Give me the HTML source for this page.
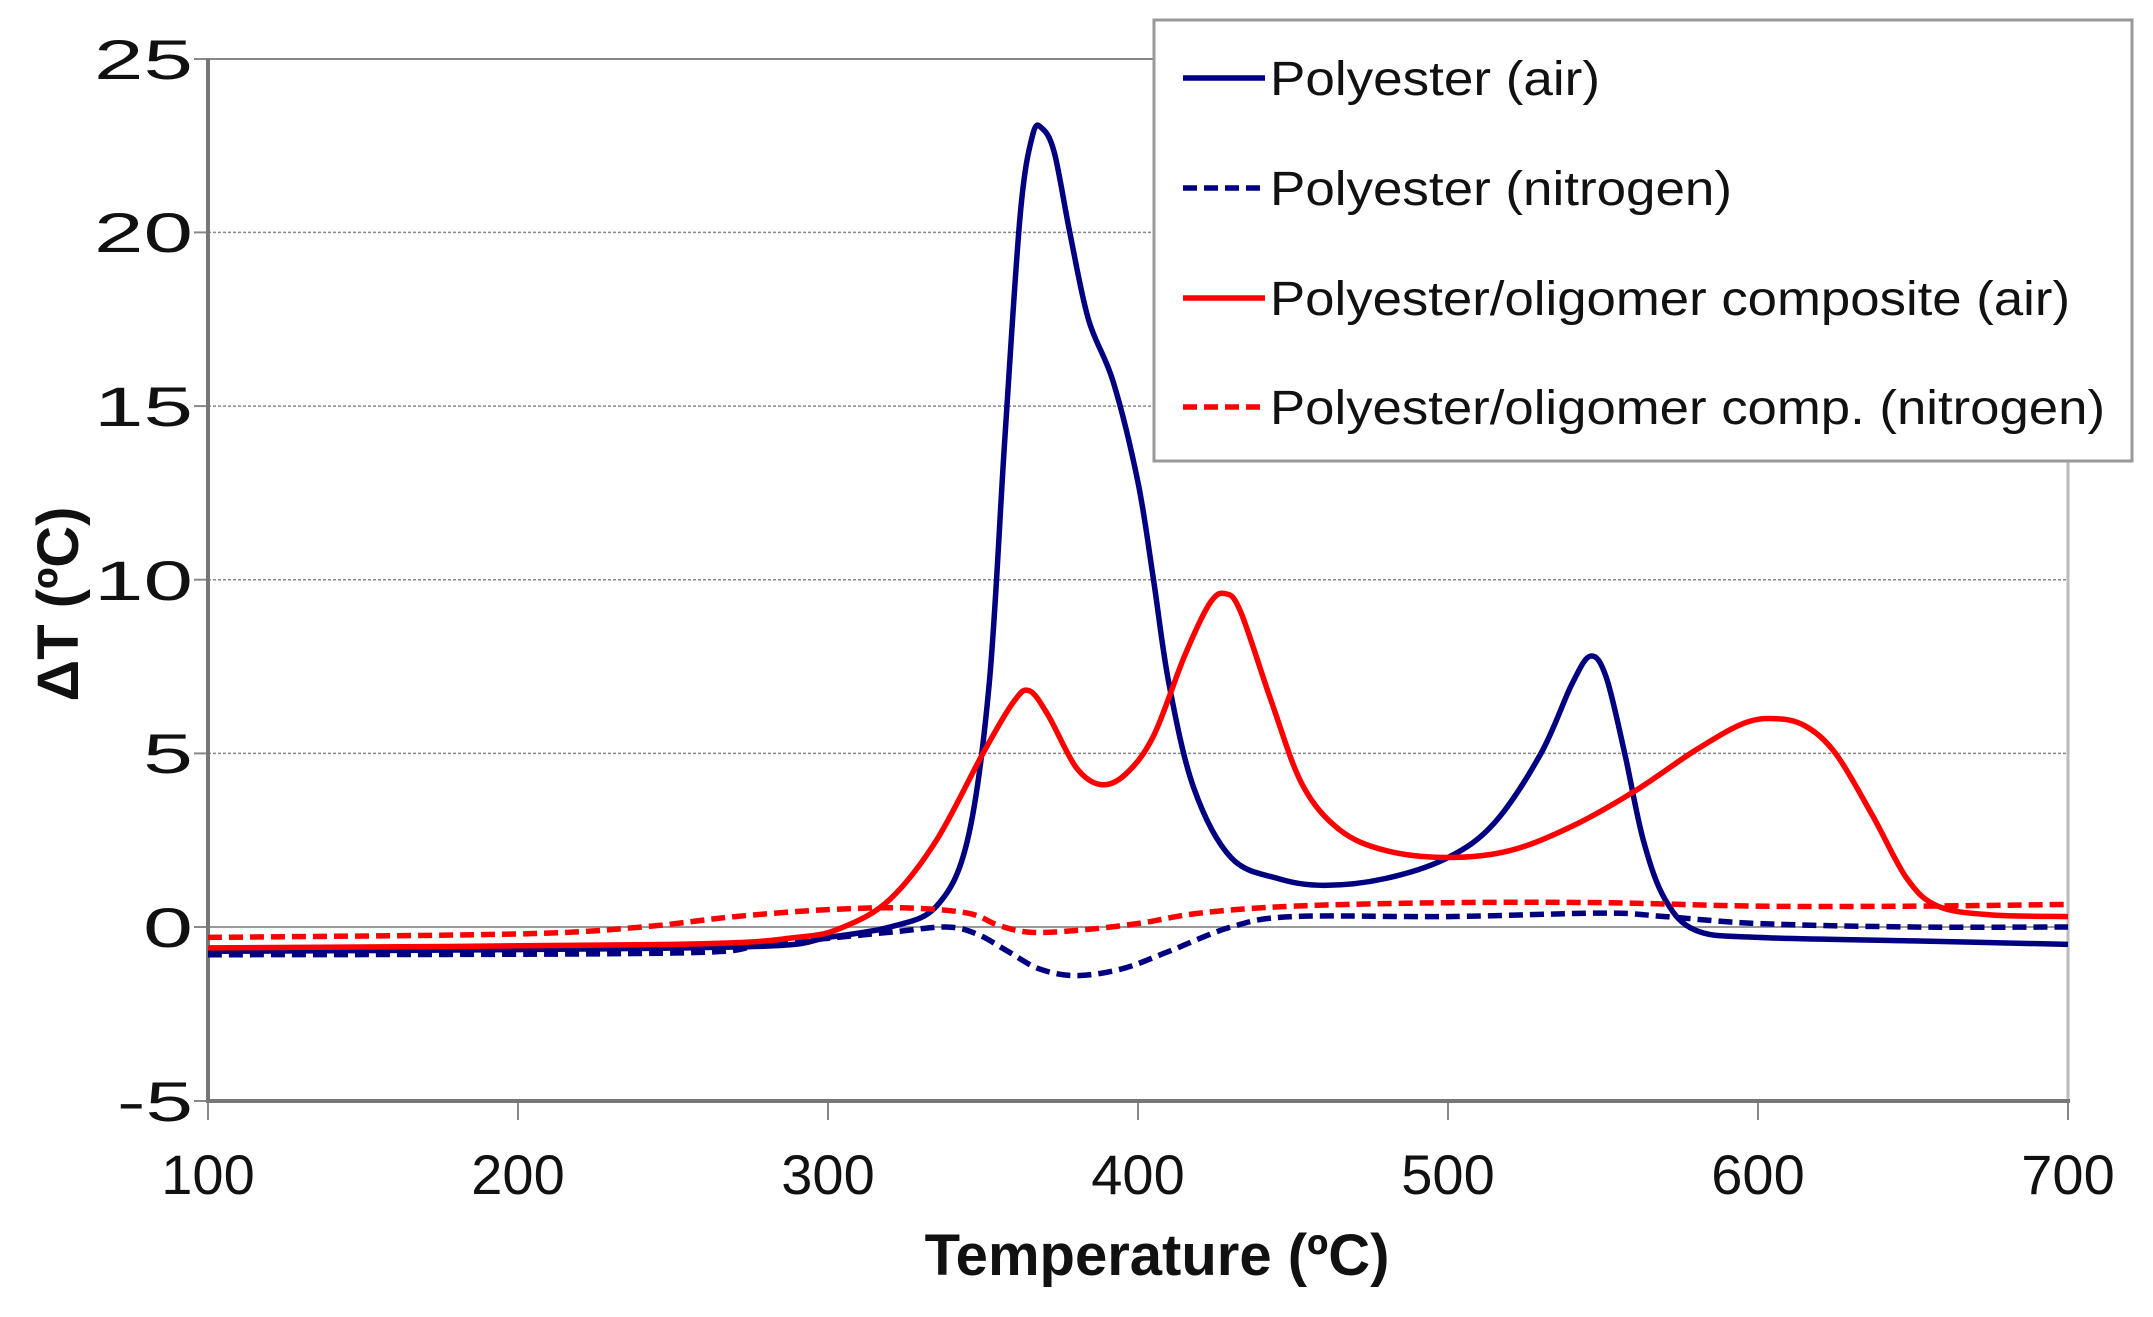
<!DOCTYPE html>
<html><head><meta charset="utf-8"><style>
html,body{margin:0;padding:0;background:#fff}
svg{display:block}
text{font-family:"Liberation Sans",Arial,sans-serif;fill:#111}
</style></head><body>
<svg id="s" width="2153" height="1317" viewBox="0 0 2153 1317" xmlns="http://www.w3.org/2000/svg">
<g stroke="#888" stroke-width="1.5" stroke-dasharray="3,2">
<line x1="208" y1="232.4" x2="2068" y2="232.4"/>
<line x1="208" y1="406.1" x2="2068" y2="406.1"/>
<line x1="208" y1="579.7" x2="2068" y2="579.7"/>
<line x1="208" y1="753.4" x2="2068" y2="753.4"/>
</g>
<line x1="208" y1="59" x2="2068" y2="59" stroke="#888" stroke-width="2"/>
<line x1="208" y1="927" x2="2068" y2="927" stroke="#999" stroke-width="2"/>
<line x1="2068" y1="59" x2="2068" y2="1101" stroke="#bbb" stroke-width="3"/>
<g stroke="#888" stroke-width="2">
<line x1="194" y1="59" x2="208" y2="59"/><line x1="194" y1="232.4" x2="208" y2="232.4"/>
<line x1="194" y1="406.1" x2="208" y2="406.1"/><line x1="194" y1="579.7" x2="208" y2="579.7"/>
<line x1="194" y1="753.4" x2="208" y2="753.4"/><line x1="194" y1="927" x2="208" y2="927"/>
<line x1="194" y1="1101" x2="208" y2="1101"/>
<line x1="208" y1="1101" x2="208" y2="1120"/><line x1="518" y1="1101" x2="518" y2="1120"/>
<line x1="828" y1="1101" x2="828" y2="1120"/><line x1="1138" y1="1101" x2="1138" y2="1120"/>
<line x1="1448" y1="1101" x2="1448" y2="1120"/><line x1="1758" y1="1101" x2="1758" y2="1120"/>
<line x1="2068" y1="1101" x2="2068" y2="1120"/>
</g>
<line x1="208" y1="59" x2="208" y2="1103" stroke="#777" stroke-width="4"/>
<line x1="206" y1="1101" x2="2070" y2="1101" stroke="#777" stroke-width="4"/>
<g id="curves" fill="none" stroke-width="5.5" stroke-linejoin="round"></g>
<g font-size="56" text-anchor="end">
<text x="193" y="79" textLength="99" lengthAdjust="spacingAndGlyphs">25</text>
<text x="193" y="252" textLength="99" lengthAdjust="spacingAndGlyphs">20</text>
<text x="193" y="426" textLength="99" lengthAdjust="spacingAndGlyphs">15</text>
<text x="193" y="600" textLength="99" lengthAdjust="spacingAndGlyphs">10</text>
<text x="193" y="773" textLength="50" lengthAdjust="spacingAndGlyphs">5</text>
<text x="193" y="947" textLength="50" lengthAdjust="spacingAndGlyphs">0</text>
<text x="193" y="1121" textLength="76" lengthAdjust="spacingAndGlyphs">-5</text>
</g>
<g font-size="56" text-anchor="middle">
<text x="208" y="1194">100</text><text x="518" y="1194">200</text><text x="828" y="1194">300</text>
<text x="1138" y="1194">400</text><text x="1448" y="1194">500</text><text x="1758" y="1194">600</text>
<text x="2068" y="1194">700</text>
</g>
<text x="1157" y="1275" font-size="58" font-weight="bold" text-anchor="middle">Temperature (ºC)</text>
<text transform="translate(78,604) rotate(-90)" font-size="58" font-weight="bold" text-anchor="middle">ΔT (ºC)</text>
<rect x="1154" y="20" width="978" height="441" fill="#fff" stroke="#999" stroke-width="3"/>
<g stroke-width="5.5">
<line x1="1183" y1="78" x2="1265" y2="78" stroke="#000080"/>
<line x1="1183" y1="188" x2="1265" y2="188" stroke="#000080" stroke-dasharray="14,7"/>
<line x1="1183" y1="298" x2="1265" y2="298" stroke="#ff0000"/>
<line x1="1183" y1="407" x2="1265" y2="407" stroke="#ff0000" stroke-dasharray="14,7"/>
</g>
<g font-size="48">
<text x="1270" y="95" textLength="330" lengthAdjust="spacingAndGlyphs">Polyester (air)</text>
<text x="1270" y="205" textLength="462" lengthAdjust="spacingAndGlyphs">Polyester (nitrogen)</text>
<text x="1270" y="315" textLength="800" lengthAdjust="spacingAndGlyphs">Polyester/oligomer composite (air)</text>
<text x="1270" y="424" textLength="835" lengthAdjust="spacingAndGlyphs">Polyester/oligomer comp. (nitrogen)</text>
</g>
</svg>
<script>
const X=t=>208+3.1*(t-100), Y=v=>927-34.73*v;
const series=[
["#000080","",[[100,-0.7],[200,-0.65],[280,-0.55],[300,-0.3],[320,0],[335,0.6],[345,2.5],[352,7],[357,14],[362,20.5],[366,22.8],[369,23],[373,22.3],[378,20],[384,17.5],[392,15.7],[400,12.8],[405,10],[410,7],[418,4],[430,2],[445,1.4],[460,1.2],[480,1.4],[500,2],[515,3],[530,5],[540,7],[546,7.8],[551,7.2],[557,5],[563,2.5],[570,0.8],[580,-0.1],[600,-0.3],[650,-0.4],[700,-0.5]]],
["#000080","14,7",[[100,-0.8],[250,-0.75],[280,-0.5],[320,-0.15],[338,0],[348,-0.2],[358,-0.7],[368,-1.2],[380,-1.4],[395,-1.2],[410,-0.7],[430,0],[450,0.3],[500,0.3],[550,0.4],[570,0.3],[600,0.1],[650,0],[700,0]]],
["#ff0000","",[[100,-0.6],[250,-0.5],[290,-0.3],[305,0],[320,0.8],[335,2.5],[350,5],[360,6.5],[365,6.8],[371,6.1],[380,4.6],[388,4.1],[396,4.4],[405,5.5],[415,7.8],[423,9.3],[428,9.6],[433,9.1],[443,6.5],[453,4.1],[465,2.8],[480,2.2],[500,2],[520,2.2],[540,2.9],[560,3.9],[580,5.1],[595,5.85],[605,6],[615,5.8],[625,5],[637,3.2],[648,1.4],[658,0.6],[675,0.35],[700,0.3]]],
["#ff0000","14,7",[[100,-0.3],[200,-0.2],[240,0],[270,0.3],[300,0.5],[325,0.55],[345,0.4],[355,0.05],[365,-0.15],[380,-0.1],[400,0.1],[420,0.4],[450,0.6],[500,0.7],[550,0.7],[600,0.6],[650,0.6],[700,0.65]]]
];
const g=document.getElementById("curves");
for(const [c,d,pts] of series){
 const p=pts.map(([t,v])=>[X(t),Y(v)]);
 let s=`M${p[0][0]},${p[0][1]}`;
 for(let i=0;i<p.length-1;i++){
  const p0=p[i-1]||p[i],p1=p[i],p2=p[i+1],p3=p[i+2]||p2;
  const c1=[p1[0]+(p2[0]-p0[0])/6,p1[1]+(p2[1]-p0[1])/6];
  const c2=[p2[0]-(p3[0]-p1[0])/6,p2[1]-(p3[1]-p1[1])/6];
  s+=` C${c1[0]},${c1[1]} ${c2[0]},${c2[1]} ${p2[0]},${p2[1]}`;
 }
 const e=document.createElementNS("http://www.w3.org/2000/svg","path");
 e.setAttribute("d",s);e.setAttribute("stroke",c);
 if(d)e.setAttribute("stroke-dasharray",d);
 g.appendChild(e);
}
</script>
</body></html>
